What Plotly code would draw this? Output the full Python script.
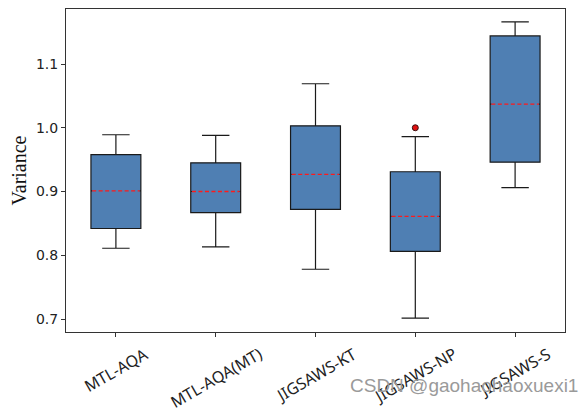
import plotly.graph_objects as go

# box statistics
categories = ["MTL-AQA", "MTL-AQA(MT)", "JIGSAWS-KT", "JIGSAWS-NP", "JIGSAWS-S"]
lower_whisker = [0.811, 0.813, 0.778, 0.7015, 0.906]
q1 = [0.842, 0.867, 0.872, 0.806, 0.946]
median = [0.901, 0.900, 0.927, 0.861, 1.037]
q3 = [0.958, 0.945, 1.003, 0.931, 1.144]
upper_whisker = [0.989, 0.988, 1.069, 0.986, 1.166]
outlier_cat = ["JIGSAWS-NP"]
outlier_val = [1.000]
y_ticks = [0.7, 0.8, 0.9, 1.0, 1.1]

positions = list(range(1, len(categories) + 1))
pos_of = dict(zip(categories, positions))
box_w = 0.5
box_fill = "#4f7fb3"

fig = go.Figure()

fig.add_trace(go.Box(
    x=positions,
    q1=q1, median=median, q3=q3,
    lowerfence=lower_whisker, upperfence=upper_whisker,
    width=box_w,
    whiskerwidth=0.55,
    fillcolor=box_fill,
    line=dict(color="#1a1a1a", width=1.2),
    boxpoints=False,
    hoverinfo="skip",
    showlegend=False,
))

# hide plotly's solid median, then draw the red dashed one on top
for p, m in zip(positions, median):
    seg = [p - box_w / 2 + 0.012, p + box_w / 2 - 0.012]
    fig.add_trace(go.Scatter(
        x=seg, y=[m, m],
        mode="lines", line=dict(color=box_fill, width=3),
        showlegend=False, hoverinfo="skip",
    ))
    fig.add_trace(go.Scatter(
        x=seg, y=[m, m],
        mode="lines",
        line=dict(color="#ff1a1a", width=1.3, dash="4px,2.5px"),
        showlegend=False, hoverinfo="skip",
    ))

fig.add_trace(go.Scatter(
    x=[pos_of[c] for c in outlier_cat], y=outlier_val,
    mode="markers",
    marker=dict(symbol="circle", size=6, color="#e01010",
                line=dict(color="#3a1010", width=1)),
    showlegend=False, hoverinfo="skip",
))

axis_common = dict(
    showline=True, linecolor="#333333", linewidth=1, mirror=True,
    ticks="outside", ticklen=4, tickcolor="#333333",
    showgrid=False, zeroline=False,
)

# category labels centred under their ticks, rotated like matplotlib
annotations = [dict(
    text=c, x=p, xref="x", y=-0.025, yref="paper",
    xanchor="center", yanchor="top", textangle=-30, showarrow=False,
    font=dict(family="Noto Sans, sans-serif", size=16, color="#222222"),
) for c, p in zip(categories, positions)]

annotations.append(dict(
    text="CSDN @gaohaohaoxuexi1", xref="paper", yref="paper",
    x=1.03, y=-0.203, xanchor="right", yanchor="bottom", showarrow=False,
    font=dict(family="Liberation Sans, sans-serif", size=19, color="#9a9a9a"),
))

fig.update_layout(
    width=580, height=402,
    margin=dict(l=58, r=23, t=1, b=78),
    paper_bgcolor="white", plot_bgcolor="white",
    xaxis=dict(
        range=[0.5, 5.5],
        tickmode="array", tickvals=positions, ticktext=[""] * len(positions),
        **axis_common,
    ),
    yaxis=dict(
        range=[0.6796, 1.1863],
        tickmode="array", tickvals=y_ticks,
        ticktext=[f"{v:.1f}" for v in y_ticks],
        tickfont=dict(family="DejaVu Sans, sans-serif", size=14, color="#222222"),
        title=dict(text="Variance", standoff=10,
                   font=dict(family="Liberation Serif, serif", size=20, color="#111111")),
        **axis_common,
    ),
    annotations=annotations,
)

fig.write_html("out.html")
